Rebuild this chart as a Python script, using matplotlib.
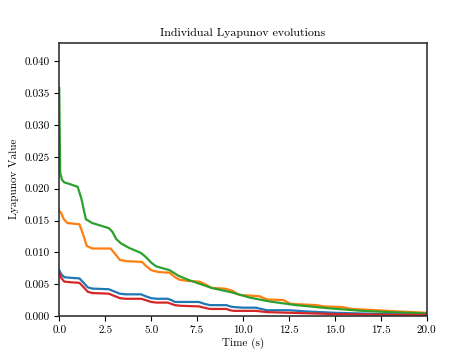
import matplotlib
matplotlib.use('Agg')
import matplotlib.pyplot as plt

plt.rcParams['font.family'] = 'serif'
plt.rcParams['font.serif'] = ['cmr10']
plt.rcParams['mathtext.fontset'] = 'cm'
plt.rcParams['axes.formatter.use_mathtext'] = True
plt.rcParams['font.size'] = 8

# Values
t_blue = [0.0, 0.1, 0.27, 0.6, 1.1, 1.3, 1.55, 1.8, 2.7, 2.95, 3.3, 3.6, 4.45, 4.7, 5.0, 5.3,
          5.9, 6.1, 6.3, 6.6, 7.6, 7.9, 8.2, 8.6, 9.1, 9.3, 9.5, 10.0, 10.7, 11.0, 11.3, 12.5,
          13.5, 15.0, 17.5, 20.0]
v_blue = [0.0072, 0.0066, 0.0061, 0.0060, 0.0059, 0.0053, 0.0045, 0.0043, 0.0042, 0.0039, 0.0035,
          0.0034, 0.0034, 0.0031, 0.0028, 0.0027, 0.0027, 0.0025, 0.0022, 0.0022, 0.0022, 0.0019,
          0.0017, 0.0017, 0.0017, 0.0015, 0.0014, 0.0013, 0.0013, 0.0011, 0.0009, 0.0009,
          0.0007, 0.0005, 0.0003, 0.0002]

t_orange = [0.0, 0.1, 0.25, 0.44, 0.8, 1.1, 1.3, 1.5, 1.8, 2.8, 3.0, 3.3, 3.7, 4.5, 4.75, 5.0,
            5.4, 6.0, 6.3, 6.54, 7.0, 7.63, 8.0, 8.3, 9.0, 9.4, 9.8, 10.9, 11.3, 12.2, 12.6,
            14.0, 14.4, 15.4, 15.9, 17.3, 18.5, 20.0]
v_orange = [0.0165, 0.0162, 0.0152, 0.0146, 0.0145, 0.0144, 0.0128, 0.0110, 0.0106, 0.0106,
            0.0099, 0.0088, 0.0086, 0.0085, 0.0078, 0.0072, 0.0069, 0.0068, 0.0061, 0.0057,
            0.0055, 0.0054, 0.0049, 0.0044, 0.0043, 0.0040, 0.0033, 0.0031, 0.0026, 0.0025,
            0.0019, 0.0017, 0.0015, 0.0014, 0.0011, 0.0009, 0.0007, 0.0005]

t_green = [0.0, 0.02, 0.05, 0.15, 0.27, 0.6, 1.0, 1.2, 1.45, 1.8, 2.7, 2.9, 3.1, 3.36, 3.8,
           4.45, 4.7, 5.0, 5.27, 6.0, 6.5, 7.0, 7.6, 8.3, 9.4, 10.35, 11.4, 12.9, 14.7, 16.5,
           18.0, 20.0]
v_green = [0.0358, 0.0300, 0.0225, 0.0214, 0.0210, 0.0207, 0.0203, 0.0185, 0.0152, 0.0146,
           0.0138, 0.0132, 0.0121, 0.0114, 0.0107, 0.0099, 0.0093, 0.0084, 0.0078, 0.0072,
           0.0063, 0.0057, 0.0051, 0.0044, 0.0037, 0.0029, 0.0023, 0.0017, 0.0012, 0.0008,
           0.0006, 0.0004]

t_red = [0.0, 0.1, 0.27, 0.6, 1.1, 1.3, 1.55, 1.8, 2.7, 2.95, 3.3, 3.6, 4.45, 4.7, 5.0, 5.3,
         5.9, 6.1, 6.3, 6.6, 7.6, 7.9, 8.2, 8.6, 9.1, 9.3, 9.5, 10.0, 10.7, 11.0, 11.3, 12.5,
         15.0, 17.5, 20.0]
v_red = [0.0068, 0.0060, 0.0054, 0.0053, 0.0052, 0.0046, 0.0038, 0.0036, 0.0035, 0.0032, 0.0028,
         0.0027, 0.0027, 0.0025, 0.0022, 0.0021, 0.0021, 0.0019, 0.0017, 0.0016, 0.0015, 0.0013,
         0.0011, 0.0011, 0.0011, 0.0009, 0.0008, 0.0008, 0.0008, 0.0007, 0.0006, 0.0005,
         0.0003, 0.0002, 0.00015]

fig, ax = plt.subplots(figsize=(4.74, 3.55), dpi=100)
ax.plot(t_blue, v_blue, color='C0', linewidth=1.6)
ax.plot(t_orange, v_orange, color='C1', linewidth=1.6)
ax.plot(t_green, v_green, color='C2', linewidth=1.6)
ax.plot(t_red, v_red, color='C3', linewidth=1.6)

ax.set_xlim(0, 20)
ax.set_ylim(0, max(v_green) * 1.2)
ax.set_yticks([0.0, 0.005, 0.010, 0.015, 0.020, 0.025, 0.030, 0.035, 0.040])
ax.set_yticklabels(['0.000', '0.005', '0.010', '0.015', '0.020', '0.025', '0.030', '0.035', '0.040'])
ax.set_xticks([0, 2.5, 5, 7.5, 10, 12.5, 15, 17.5, 20])
ax.set_xticklabels(['0.0', '2.5', '5.0', '7.5', '10.0', '12.5', '15.0', '17.5', '20.0'])
ax.set_xlabel('Time (s)', labelpad=2)
ax.set_ylabel('Lyapunov Value')
ax.set_title('Individual Lyapunov evolutions', fontsize=8.6, pad=5)
for s in ax.spines.values():
    s.set_linewidth(1.2)
    s.set_color('#333333')

fig.savefig('out.png', dpi=100)
